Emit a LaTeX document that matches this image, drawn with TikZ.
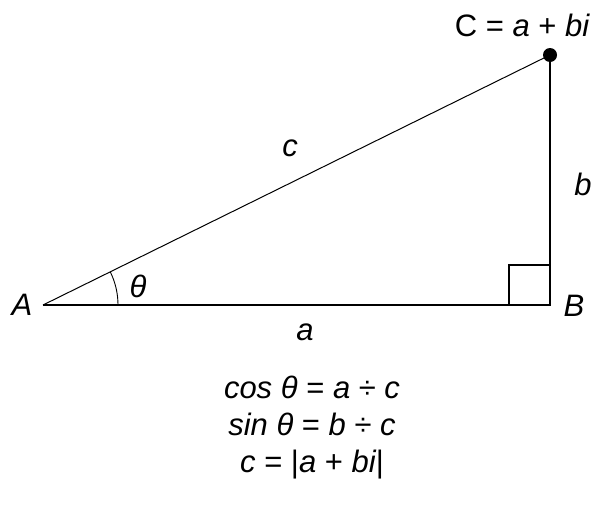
\documentclass[tikz,border=0pt]{standalone}
\usepackage{fontspec}
\setmainfont{Liberation Sans}
\usepackage{tikz}
\usetikzlibrary{positioning}
\tikzstyle{vertex} = [inner sep=0pt, font=\fontsize{31}{34}\selectfont\itshape]
\tikzstyle{side} = [inner sep=0pt, font=\fontsize{31}{34}\selectfont\itshape]
\tikzstyle{edge} = [line width=1.3pt, black]

\begin{document}
\begin{tikzpicture}[x=1pt, y=-1pt]
				\useasboundingbox (0,0) rectangle (608,517);
				\coordinate (A) at (43,305);
				\coordinate (B) at (550,305);
				\coordinate (C) at (550,55);
				\draw [edge] (A) -- (B) -- (C);
				\draw [line width=1pt] (A) -- (C);
				\fill (C) circle (7);
				\draw [edge] (509,305) -- (509,265) -- (550,265);
				\draw [line width=0.9pt] ([shift={(75,0)}]A) arc (0:-26.2:75);
				\node (labA) [vertex] at (22,305) {A};
				\node (labB) [vertex] at (574,306) {B};
				\node (labC) [vertex, anchor=base] at (522,36) {\upshape C = \itshape a \upshape + \itshape bi};
				\node (theta) [side] at (138,286) {θ};
				\node (labc) [side] at (290,148) {c};
				\node (labb) [side] at (583,184) {b};
				\node (laba) [side] at (305,332) {a};
				\node (formulas) [side, align=center, font=\fontsize{31}{37}\selectfont\itshape] at (312,428)
				{cos θ \upshape = \itshape a \upshape ÷ \itshape c\\
				sin θ \upshape = \itshape b \upshape ÷ \itshape c\\
				c \upshape = |\itshape a \upshape + \itshape bi\upshape |};
			\end{tikzpicture}
\end{document}
